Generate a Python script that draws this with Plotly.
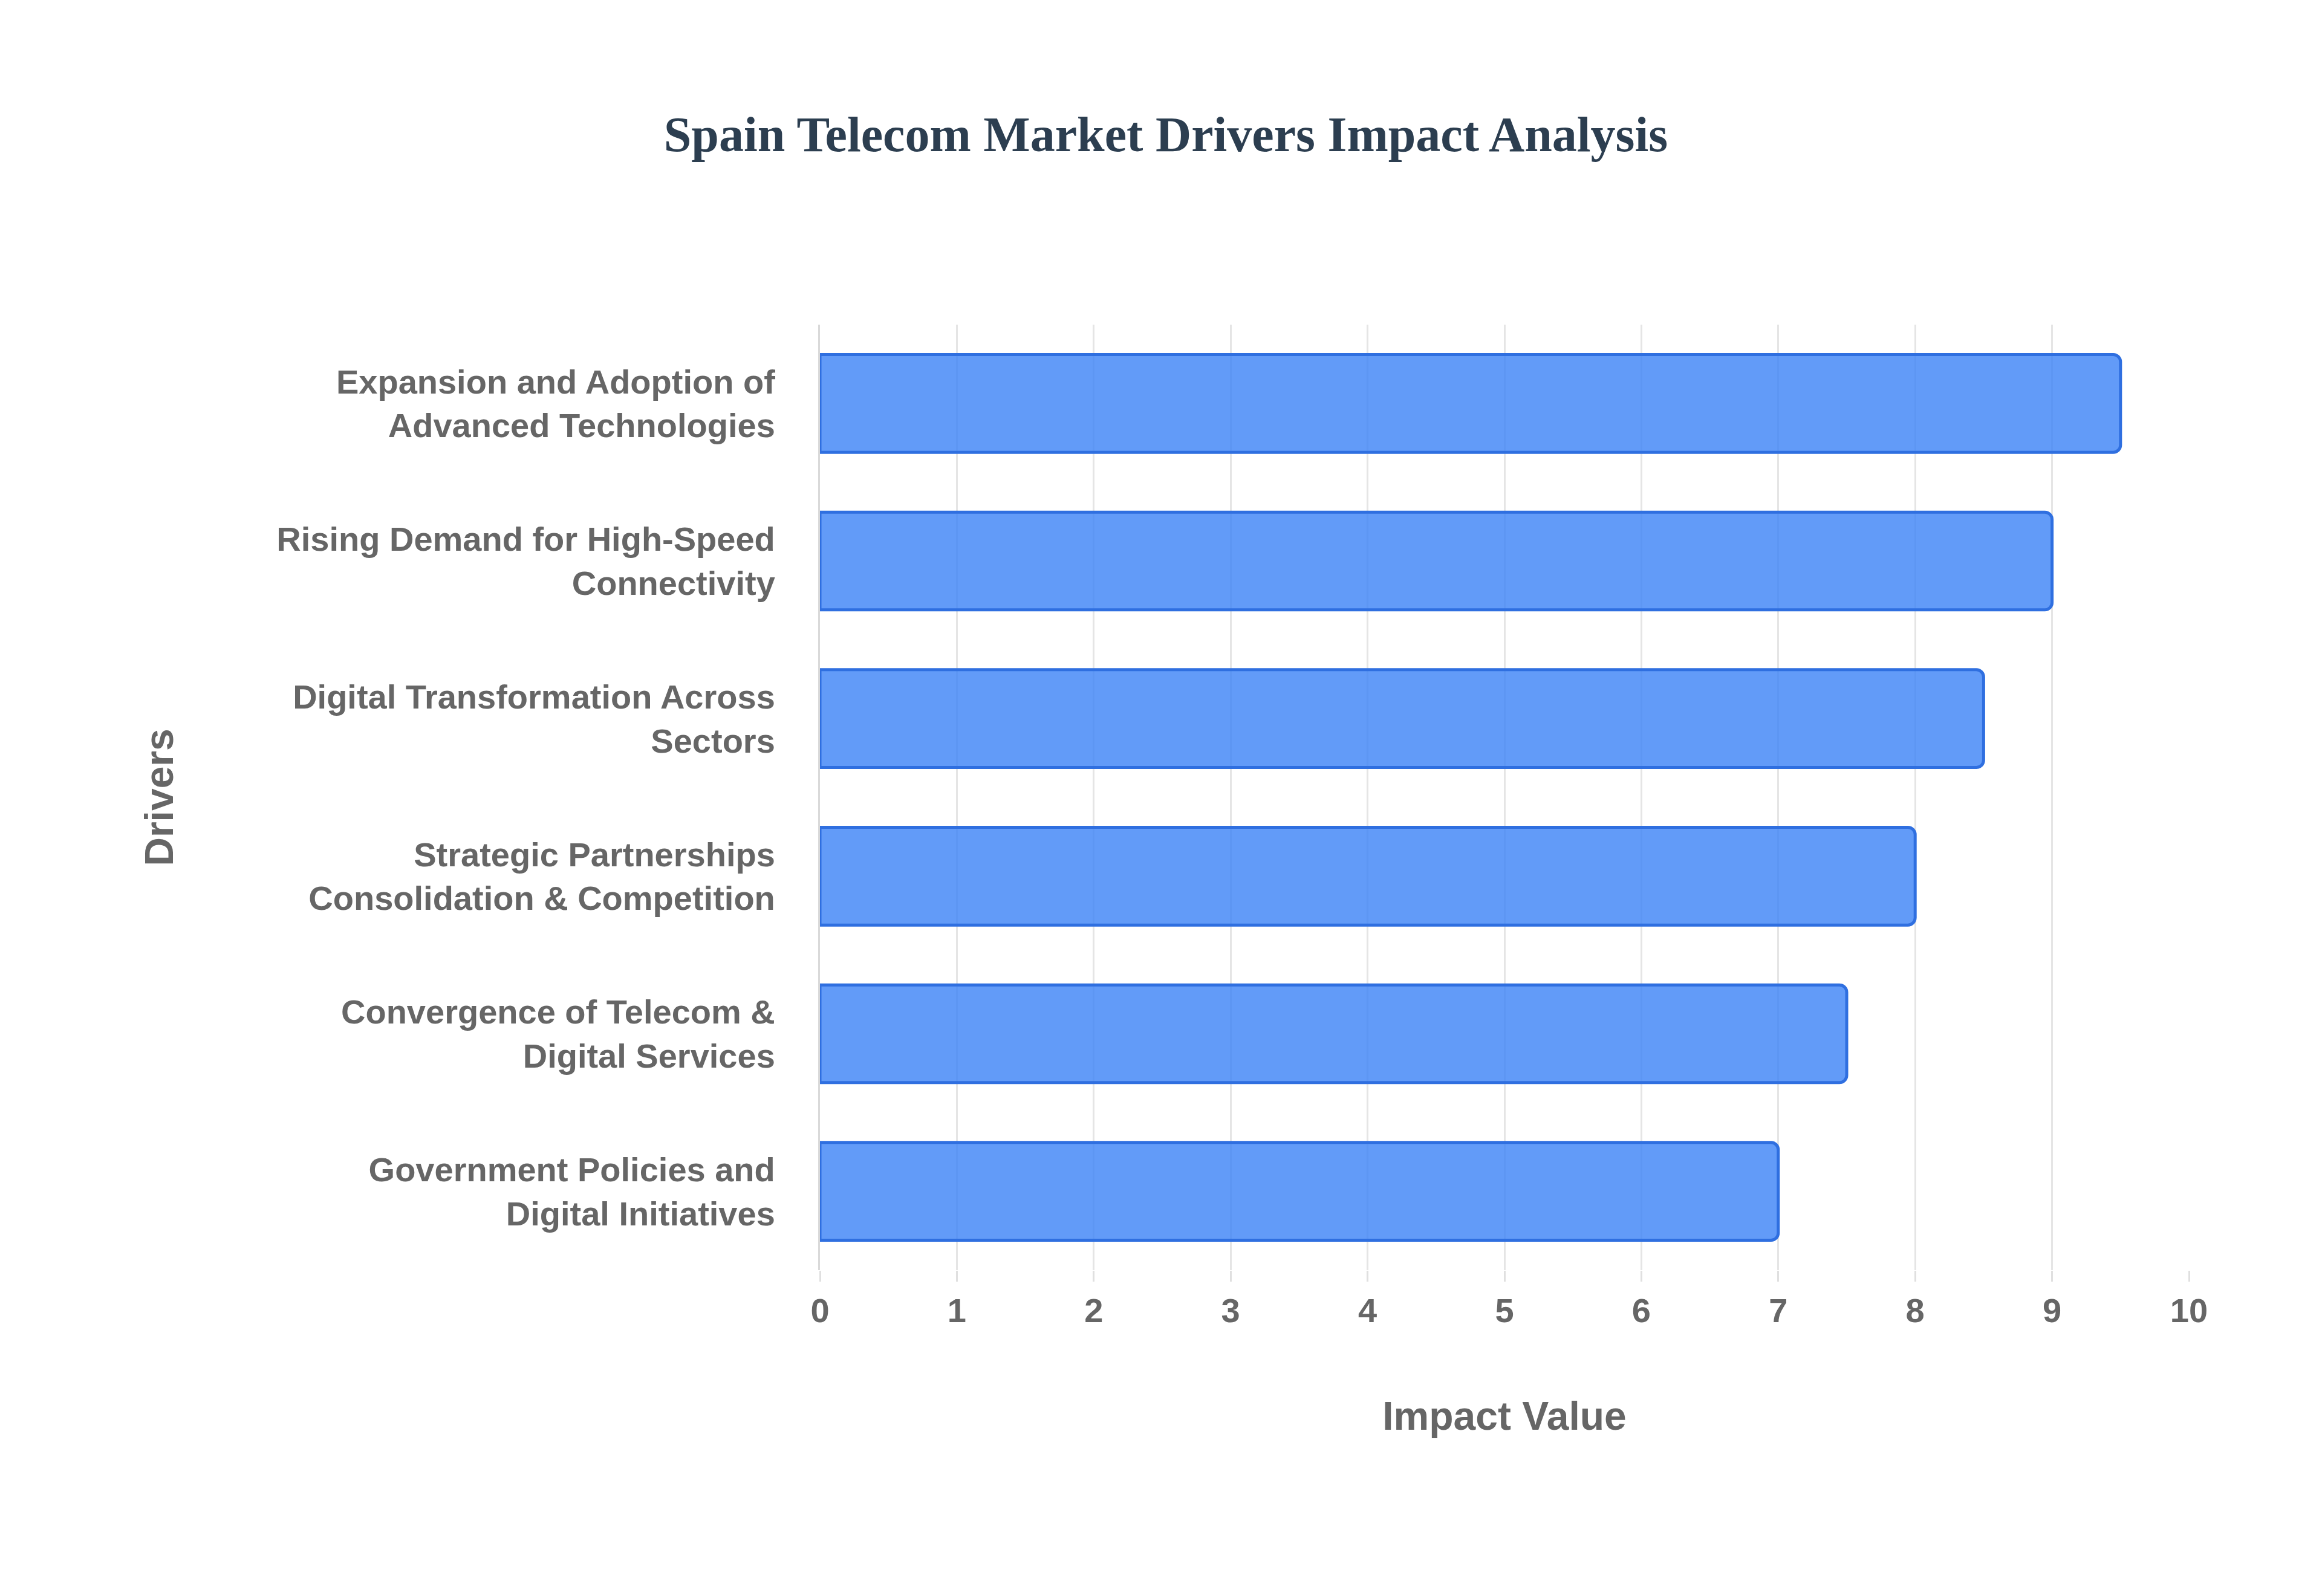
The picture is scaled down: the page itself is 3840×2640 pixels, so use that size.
import plotly.graph_objects as go

# Drivers and their impact values (top to bottom as shown)
drivers = [
    "Expansion and Adoption of<br>Advanced Technologies",
    "Rising Demand for High-Speed<br>Connectivity",
    "Digital Transformation Across<br>Sectors",
    "Strategic Partnerships<br>Consolidation & Competition",
    "Convergence of Telecom &<br>Digital Services",
    "Government Policies and<br>Digital Initiatives",
]
impact = [9.5, 9.0, 8.5, 8.0, 7.5, 7.0]

fig = go.Figure(go.Bar(
    x=impact, y=drivers, orientation="h",
    marker=dict(color="rgba(59,130,246,0.8)",
                line=dict(color="#2f6fe0", width=5),
                cornerradius=12),
))

axis_font = dict(family="Liberation Sans, Arial", size=56, color="#666666", weight="bold")
fig.update_layout(
    width=3840, height=2640,
    paper_bgcolor="white", plot_bgcolor="white",
    margin=dict(l=1348, r=228, t=529, b=547),
    bargap=0.38,
    showlegend=False,
    title=dict(text="<b>Spain Telecom Market Drivers Impact Analysis</b>",
               x=0.5, xanchor="center", y=0.93,
               font=dict(family="Liberation Serif, Times New Roman", size=82, color="#2c3e50")),
    xaxis=dict(range=[0, 10], dtick=1, tickfont=axis_font,
               showgrid=True, gridcolor="#e5e5e5", gridwidth=3,
               zeroline=False, ticks="outside", ticklen=18, tickcolor="#e0e0e0", tickwidth=3,
               title=dict(text="Impact Value", font=dict(family="Liberation Sans, Arial", size=66,
                                                         color="#666666", weight="bold"), standoff=120)),
    yaxis=dict(autorange="reversed", tickfont=axis_font, showgrid=False,
               showline=True, linecolor="#d9d9d9", linewidth=3, ticks="", ticklabelstandoff=60,
               title=dict(text="Drivers", font=dict(family="Liberation Sans, Arial", size=66,
                                                    color="#666666", weight="bold"), standoff=150)),
)

fig.write_html("out.html")
